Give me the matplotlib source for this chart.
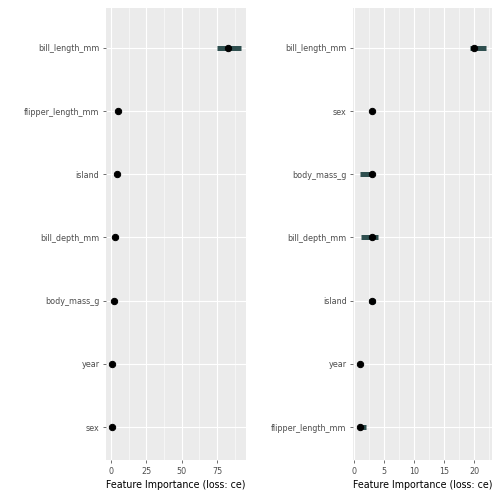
import matplotlib.pyplot as plt

# model 1 (left)
feat_l = ['bill_length_mm', 'flipper_length_mm', 'island', 'bill_depth_mm', 'body_mass_g', 'year', 'sex']
imp_l = [83, 5, 4.5, 3, 2, 1, 1]
lo_l = [75, 4, 3.5, 2.5, 1.5, 0.5, 0.5]
hi_l = [92, 6, 5.5, 3.5, 2.5, 1.5, 1.5]

# model 2 (right)
feat_r = ['bill_length_mm', 'sex', 'body_mass_g', 'bill_depth_mm', 'island', 'year', 'flipper_length_mm']
imp_r = [20, 3, 3, 3, 3, 1, 1]
lo_r = [19.3, 2.8, 1.0, 1.2, 2.5, 0.9, 1.0]
hi_r = [22, 3.2, 3.2, 4.0, 3.5, 1.1, 2.0]

fig = plt.figure(figsize=(7, 7), dpi=72)
ax1 = fig.add_axes([106/504, 44/504, 140/504, 452/504])
ax2 = fig.add_axes([353/504, 44/504, 139/504, 452/504])

def panel(ax, feat, imp, lo, hi, xlim, ticks, minor):
    ax.set_facecolor('#EBEBEB')
    y = list(range(len(feat)))[::-1]
    ax.hlines(y, lo, hi, color='#2F4F4F', lw=5, zorder=3)
    ax.scatter(imp, y, color='black', s=40, zorder=4)
    ax.set_yticks(y)
    ax.set_yticklabels(feat)
    ax.set_ylim(-0.52, len(feat) - 0.37)
    ax.set_xlim(*xlim)
    ax.set_xticks(ticks)
    ax.set_xticks(minor, minor=True)
    ax.grid(True, which='major', color='white', lw=1.1)
    ax.grid(True, which='minor', axis='x', color='white', lw=0.5)
    ax.set_axisbelow(True)
    for s in ax.spines.values():
        s.set_visible(False)
    ax.tick_params(labelsize=8, colors='#4D4D4D', length=3, which='major')
    ax.tick_params(which='minor', length=0)
    ax.set_xlabel('Feature Importance (loss: ce)', fontsize=9.5)

panel(ax1, feat_l, imp_l, lo_l, hi_l, (-3.5, 95.5), [0, 25, 50, 75], [12.5, 37.5, 62.5, 87.5])
panel(ax2, feat_r, imp_r, lo_r, hi_r, (-0.1, 23), [0, 5, 10, 15, 20], [2.5, 7.5, 12.5, 17.5, 22.5])

fig.savefig('out.png', dpi=72)
